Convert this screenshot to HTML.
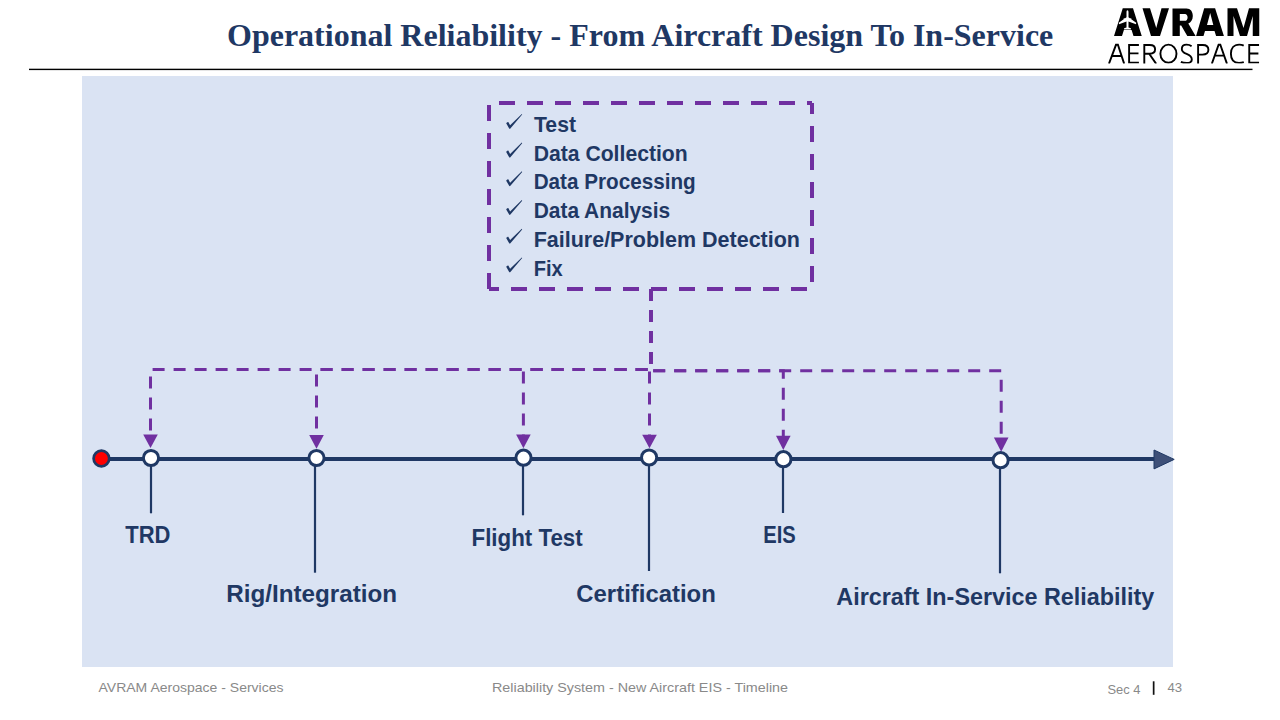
<!DOCTYPE html>
<html><head><meta charset="utf-8">
<style>
html,body{margin:0;padding:0;background:#fff;width:1280px;height:720px;overflow:hidden}
svg{position:absolute;left:0;top:0;display:block}
.t{font-family:"Liberation Serif",serif;font-weight:bold}
.s{font-family:"Liberation Sans",sans-serif}
</style></head><body>
<svg width="1280" height="720" viewBox="0 0 1280 720">
<!-- panel -->
<rect x="82" y="76" width="1091" height="591" fill="#DAE3F3"/>
<!-- header rule -->
<rect x="29" y="68.7" width="1223.5" height="1.4" fill="#000"/>
<!-- title -->
<text id="title" class="t" x="227" y="45.8" font-size="32" fill="#1F3864">Operational Reliability - From Aircraft Design To In-Service</text>

<!-- logo AVRAM -->
<g fill="#000">
<path fill-rule="evenodd" d="M1114,36 L1122.75,8.25 L1133,8.25 L1141.75,36 L1133.5,36 L1131.6,29.9 L1123.9,29.9 L1122,36 Z"/>
<path d="M1142.5,8.25 L1150,8.25 L1156.25,28 L1161.5,8.25 L1169,8.25 L1160,36 L1151,36 Z"/>
<path fill-rule="evenodd" d="M1172.5,8.5 H1186.5 C1190.5,8.5 1192.8,11.5 1192.8,16 C1192.8,19.8 1190.8,22.5 1188.3,23.6 L1195.6,36 H1187.3 L1181.2,25.5 H1179.8 V36 H1172.5 Z M1179.8,14 H1185 C1186.4,14 1187.6,15.5 1187.6,17.4 C1187.6,19.3 1186.4,20.8 1185,20.8 H1179.8 Z"/>
<path fill-rule="evenodd" d="M1196.1,36 L1204.2,8.25 L1215.1,8.25 L1223.9,36 L1216.1,36 L1214.5,31 L1205,31 L1203.5,36 Z M1210.2,13 L1207,25 L1213.3,25 Z"/>
<path d="M1227.5,36 L1227.5,8.25 L1237,8.25 L1243.5,28 L1249,8.25 L1259.25,8.25 L1259.25,36 L1252.75,36 L1252.75,16 L1247,36 L1240,36 L1233.5,16 L1233.5,36 Z"/>
</g>
<!-- airplane -->
<path fill="#fff" d="M1127.5,10.2 C1128.1,10.2 1128.5,11 1128.5,12.5 L1128.5,17.3 L1130.2,18.5 L1130.2,18.2 L1131.3,18.2 L1131.3,19.3 L1136.2,22.7 L1136,24.3 L1128.5,21.5 L1128.5,27.4 L1130.9,28.3 L1130.9,29.5 L1124.1,29.5 L1124.1,28.3 L1126.5,27.4 L1126.5,21.5 L1119,24.3 L1118.8,22.7 L1123.7,19.3 L1123.7,18.2 L1124.8,18.2 L1124.8,18.5 L1126.5,17.3 L1126.5,12.5 C1126.5,11 1126.9,10.2 1127.5,10.2 Z"/>
<!-- AEROSPACE -->
<clipPath id="aclip"><rect x="1100" y="43" width="170" height="20.6"/></clipPath>
<g id="aero" clip-path="url(#aclip)" fill="none" stroke="#000" stroke-width="1.9">
<path d="M1108.9,63.9 L1116,44.8 H1117.9 L1124.2,63.9 M1112.4,56 H1120.9"/>
<path d="M1138.9,44.95 H1129.1 V62.65 H1138.9 M1129.1,53.4 H1138.5"/>
<path d="M1144.3,63.9 V44.95 H1149.8 C1153.6,44.95 1155.1,46.9 1155.1,49.3 C1155.1,51.9 1153.4,53.7 1149.8,53.7 H1144.3 M1149.2,53.7 L1156.2,63.9"/>
<ellipse cx="1168.45" cy="53.7" rx="8.05" ry="9.1"/>
<path d="M1191.6,46.2 C1190.3,45.2 1188.6,44.6 1186.6,44.6 C1183.5,44.6 1181.8,46.3 1181.8,48.9 C1181.8,51.6 1183.7,52.7 1186.6,53.9 C1189.9,55.2 1191.8,56.6 1191.8,59.4 C1191.8,62.1 1189.6,62.9 1186.6,62.9 C1184.2,62.9 1182.3,62.5 1180.9,61.8"/>
<path d="M1198.1,63.9 V44.95 H1202.8 C1206.6,44.95 1208.4,46.8 1208.4,49.8 C1208.4,52.8 1206.3,54.6 1202.5,54.6 H1198.1"/>
<path d="M1211.8,63.9 L1218.6,44.8 H1220.3 L1227,63.9 M1215.2,55.6 H1223.4"/>
<path d="M1243.7,45.6 C1242.4,44.9 1240.9,44.6 1239.2,44.6 C1233.8,44.6 1230.9,48.4 1230.9,53.8 C1230.9,59.4 1233.6,62.9 1239,62.9 C1240.8,62.9 1242.4,62.6 1243.8,62.1"/>
<path d="M1259.05,44.95 H1249.25 V62.65 H1259.05 M1249.25,53.5 H1258.4"/>
</g>

<!-- checklist box -->
<g id="box" stroke="#7030A0" stroke-width="4" fill="none">
<line x1="489" y1="103" x2="812" y2="103" stroke-dasharray="16 12" stroke-dashoffset="18"/>
<line x1="812" y1="103" x2="812" y2="289" stroke-dasharray="16 12" stroke-dashoffset="5"/>
<line x1="812" y1="289" x2="489" y2="289" stroke-dasharray="16 12" stroke-dashoffset="23"/>
<line x1="489" y1="289" x2="489" y2="103" stroke-dasharray="16 12" stroke-dashoffset="0"/>
</g>

<!-- check list -->
<g fill="#1F3864" class="s" font-weight="bold" font-size="22">
<text x="534" y="132" textLength="42" lengthAdjust="spacingAndGlyphs">Test</text>
<text x="533.7" y="160.7" textLength="154" lengthAdjust="spacingAndGlyphs">Data Collection</text>
<text x="533.7" y="189.4" textLength="162" lengthAdjust="spacingAndGlyphs">Data Processing</text>
<text x="533.7" y="218.1" textLength="136.5" lengthAdjust="spacingAndGlyphs">Data Analysis</text>
<text x="533.7" y="246.8" textLength="266.3" lengthAdjust="spacingAndGlyphs">Failure/Problem Detection</text>
<text x="533.7" y="275.5" textLength="29" lengthAdjust="spacingAndGlyphs">Fix</text>
</g>
<g id="checks" fill="#1F3864">
<path transform="translate(0 0.0)" d="M506.2,123.3 C506.7,122.5 507.5,121.9 508.3,121.9 L510.1,125.3 L521.8,113.9 L522.2,114.6 L510.6,128.2 C510.2,128.7 509.7,128.9 509.3,128.7 Z"/>
<path transform="translate(0 28.7)" d="M506.2,123.3 C506.7,122.5 507.5,121.9 508.3,121.9 L510.1,125.3 L521.8,113.9 L522.2,114.6 L510.6,128.2 C510.2,128.7 509.7,128.9 509.3,128.7 Z"/>
<path transform="translate(0 57.4)" d="M506.2,123.3 C506.7,122.5 507.5,121.9 508.3,121.9 L510.1,125.3 L521.8,113.9 L522.2,114.6 L510.6,128.2 C510.2,128.7 509.7,128.9 509.3,128.7 Z"/>
<path transform="translate(0 86.1)" d="M506.2,123.3 C506.7,122.5 507.5,121.9 508.3,121.9 L510.1,125.3 L521.8,113.9 L522.2,114.6 L510.6,128.2 C510.2,128.7 509.7,128.9 509.3,128.7 Z"/>
<path transform="translate(0 114.8)" d="M506.2,123.3 C506.7,122.5 507.5,121.9 508.3,121.9 L510.1,125.3 L521.8,113.9 L522.2,114.6 L510.6,128.2 C510.2,128.7 509.7,128.9 509.3,128.7 Z"/>
<path transform="translate(0 143.5)" d="M506.2,123.3 C506.7,122.5 507.5,121.9 508.3,121.9 L510.1,125.3 L521.8,113.9 L522.2,114.6 L510.6,128.2 C510.2,128.7 509.7,128.9 509.3,128.7 Z"/>
</g>

<!-- connectors -->
<g stroke="#7030A0" stroke-width="3" fill="none" stroke-dasharray="12 9">
<path d="M651,289 V369.6 H150.5 V435"/>
<path d="M651,289 V369.6 H316.5 V435"/>
<path d="M651,289 V369.6 H523.4 V435"/>
<path d="M651,289 V369.6 H649.5 V435"/>
<path d="M651,289 V370.8 H783.3 V436"/>
<path d="M651,289 V370.8 H1001.2 V437.5"/>
</g>
<g fill="#7030A0">
<path d="M143.2,434.4 H157.8 L150.5,448 Z"/>
<path d="M309.2,435 H323.8 L316.5,448.7 Z"/>
<path d="M516.1,434.6 H530.7 L523.4,448.3 Z"/>
<path d="M642.2,434.8 H656.8 L649.5,448.3 Z"/>
<path d="M776,435.8 H790.6 L783.3,450 Z"/>
<path d="M993.9,437.5 H1008.5 L1001.2,451.7 Z"/>
</g>

<!-- axis -->
<g stroke="#1F3864">
<line x1="101" y1="459" x2="1155" y2="459" stroke-width="3.8"/>
<path d="M1154,450 L1174.2,459.4 L1154,468.9 Z" fill="#3E5078" stroke-width="1"/>
<g stroke-width="2.2">
<line x1="151" y1="462" x2="151" y2="513.3"/>
<line x1="315" y1="462" x2="315" y2="572.7"/>
<line x1="523" y1="462" x2="523" y2="515.3"/>
<line x1="649" y1="462" x2="649" y2="571"/>
<line x1="783" y1="462" x2="783" y2="513"/>
<line x1="1000" y1="462" x2="1000" y2="573.3"/>
</g>
<circle cx="101.4" cy="458.5" r="7.8" fill="#FF0000" stroke-width="2.7"/>
<g fill="#fff" stroke-width="3">
<circle cx="151" cy="458" r="7.6"/>
<circle cx="316.5" cy="458" r="7.6"/>
<circle cx="523.5" cy="457.7" r="7.6"/>
<circle cx="649.1" cy="457.5" r="7.6"/>
<circle cx="783.4" cy="459.2" r="7.6"/>
<circle cx="1000.6" cy="460.2" r="7.6"/>
</g>
</g>

<!-- labels -->
<g fill="#1F3864" class="s" font-weight="bold" font-size="24">
<text x="125.3" y="542.9" textLength="45.2" lengthAdjust="spacingAndGlyphs">TRD</text>
<text x="226.3" y="601.8" textLength="170.8" lengthAdjust="spacingAndGlyphs">Rig/Integration</text>
<text x="471.5" y="545.7" textLength="111.2" lengthAdjust="spacingAndGlyphs">Flight Test</text>
<text x="576.3" y="601.6" textLength="139.5" lengthAdjust="spacingAndGlyphs">Certification</text>
<text x="763.2" y="542.7" textLength="32.5" lengthAdjust="spacingAndGlyphs">EIS</text>
<text x="836.3" y="604.8" textLength="318" lengthAdjust="spacingAndGlyphs">Aircraft In-Service Reliability</text>
</g>

<!-- footer -->
<g fill="#898989" class="s" font-size="13.5">
<text x="98.5" y="691.8" textLength="185" lengthAdjust="spacingAndGlyphs">AVRAM Aerospace - Services</text>
<text x="492" y="692" textLength="296" lengthAdjust="spacingAndGlyphs">Reliability System - New Aircraft EIS - Timeline</text>
<text x="1107.5" y="693.8" textLength="33" lengthAdjust="spacingAndGlyphs">Sec 4</text>
<text x="1167.5" y="691.9" textLength="14.6" lengthAdjust="spacingAndGlyphs">43</text>
</g>
<rect x="1152.8" y="681.3" width="1.7" height="13.5" fill="#111"/>
</svg>
</body></html>
